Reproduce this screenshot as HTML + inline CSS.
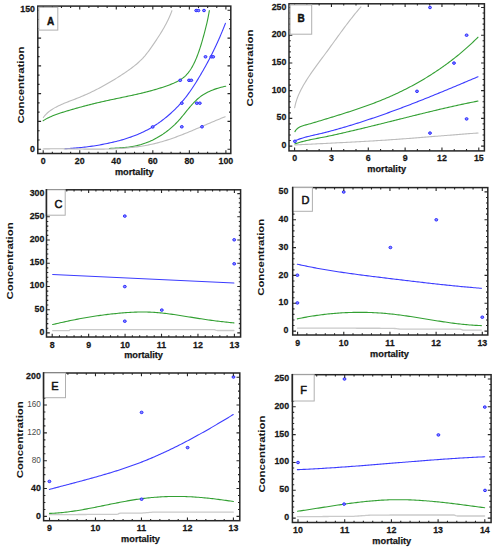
<!DOCTYPE html>
<html><head><meta charset="utf-8"><style>html,body{margin:0;padding:0;background:#fff;}svg{display:block;}</style></head><body>
<svg width="495" height="550" viewBox="0 0 495 550" font-family='"Liberation Sans", sans-serif'>
<rect width="495" height="550" fill="#fff"/>
<polyline points="43.35,117.46 44.24,116.25 45.21,115.11 46.23,114.03 47.31,113 48.44,112.04 49.61,111.12 50.81,110.25 52.05,109.42 53.32,108.62 54.61,107.87 55.92,107.14 57.25,106.44 58.6,105.77 59.97,105.13 61.35,104.51 62.75,103.9 64.15,103.31 65.57,102.74 66.99,102.17 68.42,101.62 69.86,101.07 71.29,100.52 72.73,99.97 74.16,99.43 75.6,98.87 77.02,98.31 78.44,97.74 79.86,97.17 81.27,96.58 82.67,95.98 84.07,95.38 85.46,94.77 86.85,94.15 88.23,93.52 89.61,92.88 90.98,92.23 92.34,91.58 93.71,90.91 95.06,90.24 96.41,89.56 97.76,88.87 99.1,88.18 100.44,87.47 101.77,86.76 103.1,86.04 104.42,85.31 105.74,84.57 107.06,83.83 108.37,83.08 109.68,82.32 110.98,81.55 112.28,80.77 113.58,79.99 114.87,79.2 116.16,78.4 117.44,77.6 118.72,76.78 120,75.96 121.28,75.13 122.55,74.3 123.82,73.46 125.09,72.61 126.35,71.75 127.61,70.88 128.86,70.01 130.1,69.12 131.33,68.22 132.55,67.31 133.76,66.38 134.95,65.43 136.12,64.47 137.28,63.49 138.41,62.49 139.52,61.47 140.61,60.43 141.68,59.36 142.72,58.28 143.73,57.16 144.72,56.03 145.68,54.88 146.63,53.7 147.56,52.51 148.47,51.31 149.37,50.09 150.25,48.87 151.13,47.63 152,46.38 152.86,45.13 153.72,43.88 154.57,42.62 155.42,41.35 156.27,40.09 157.11,38.82 157.94,37.54 158.77,36.26 159.59,34.98 160.39,33.69 161.19,32.39 161.98,31.09 162.76,29.78 163.52,28.47 164.27,27.15 165.01,25.82 165.73,24.49 166.44,23.15 167.13,21.8 167.8,20.44 168.45,19.07 169.08,17.7 169.7,16.31 170.29,14.92 170.86,13.52 171.41,12.11 171.93,10.69" fill="none" stroke="#bcbcbc" stroke-width="1.1" stroke-linejoin="round" stroke-linecap="round"/>
<polyline points="43.15,120.73 44.5,119.89 45.84,119.1 47.2,118.36 48.56,117.66 49.93,117 51.3,116.39 52.68,115.8 54.06,115.25 55.45,114.72 56.85,114.22 58.25,113.74 59.65,113.27 61.06,112.82 62.47,112.38 63.89,111.94 65.32,111.51 66.74,111.08 68.18,110.65 69.61,110.23 71.05,109.8 72.49,109.39 73.94,108.97 75.39,108.56 76.84,108.14 78.3,107.74 79.76,107.33 81.22,106.93 82.68,106.54 84.15,106.14 85.61,105.76 87.08,105.37 88.56,104.99 90.03,104.61 91.51,104.24 92.98,103.87 94.46,103.51 95.94,103.15 97.42,102.8 98.9,102.45 100.38,102.1 101.86,101.76 103.35,101.43 104.83,101.1 106.31,100.77 107.8,100.45 109.28,100.13 110.76,99.81 112.25,99.5 113.73,99.19 115.21,98.87 116.7,98.56 118.18,98.25 119.66,97.94 121.14,97.64 122.63,97.33 124.11,97.02 125.59,96.7 127.07,96.39 128.55,96.08 130.03,95.76 131.5,95.44 132.98,95.11 134.45,94.79 135.93,94.46 137.4,94.12 138.87,93.78 140.34,93.44 141.81,93.09 143.28,92.73 144.75,92.37 146.21,92 147.67,91.63 149.13,91.25 150.59,90.86 152.05,90.46 153.5,90.05 154.96,89.63 156.41,89.21 157.86,88.78 159.3,88.33 160.75,87.88 162.19,87.41 163.63,86.93 165.06,86.45 166.5,85.95 167.93,85.43 169.36,84.91 170.78,84.37 172.19,83.8 173.59,83.22 174.97,82.61 176.33,81.96 177.66,81.29 178.97,80.57 180.24,79.82 181.47,79.01 182.67,78.16 183.82,77.26 184.93,76.3 185.98,75.28 186.99,74.21 187.95,73.09 188.87,71.93 189.75,70.72 190.59,69.47 191.4,68.2 192.17,66.89 192.9,65.55 193.61,64.19 194.28,62.82 194.93,61.42 195.56,60.02 196.16,58.61 196.74,57.2 197.3,55.77 197.84,54.35 198.37,52.92 198.88,51.49 199.37,50.05 199.85,48.61 200.31,47.16 200.77,45.72 201.21,44.27 201.64,42.81 202.07,41.36 202.49,39.9 202.9,38.44 203.31,36.98 203.71,35.51 204.11,34.05 204.5,32.58 204.89,31.11 205.27,29.65 205.65,28.18 206.01,26.71 206.37,25.24 206.72,23.77 207.06,22.3 207.38,20.83 207.7,19.36 208.01,17.89 208.3,16.43 208.58,14.96 208.84,13.5 209.09,12.04 209.32,10.58" fill="none" stroke="#33a033" stroke-width="1.1" stroke-linejoin="round" stroke-linecap="round"/>
<polyline points="65.03,148.67 66.53,148.61 68.02,148.54 69.52,148.46 71.02,148.37 72.52,148.27 74.02,148.16 75.53,148.04 77.04,147.91 78.55,147.78 80.06,147.63 81.57,147.48 83.08,147.32 84.6,147.14 86.11,146.96 87.62,146.77 89.14,146.57 90.65,146.36 92.17,146.15 93.68,145.92 95.19,145.68 96.7,145.44 98.21,145.18 99.72,144.92 101.23,144.65 102.73,144.37 104.23,144.08 105.73,143.78 107.23,143.47 108.73,143.15 110.22,142.83 111.71,142.49 113.19,142.15 114.68,141.79 116.16,141.43 117.63,141.05 119.1,140.66 120.57,140.26 122.03,139.85 123.48,139.43 124.93,138.99 126.38,138.54 127.82,138.08 129.25,137.6 130.68,137.11 132.1,136.6 133.52,136.08 134.93,135.54 136.33,134.99 137.73,134.42 139.12,133.83 140.5,133.22 141.87,132.6 143.24,131.95 144.59,131.29 145.94,130.61 147.28,129.91 148.62,129.19 149.94,128.45 151.25,127.69 152.56,126.91 153.85,126.12 155.14,125.3 156.41,124.47 157.68,123.63 158.93,122.76 160.18,121.88 161.41,120.98 162.63,120.06 163.84,119.13 165.04,118.19 166.23,117.23 167.41,116.25 168.57,115.26 169.72,114.26 170.86,113.24 171.98,112.21 173.1,111.16 174.2,110.11 175.28,109.04 176.36,107.95 177.42,106.86 178.46,105.76 179.49,104.64 180.51,103.51 181.51,102.37 182.5,101.23 183.47,100.07 184.42,98.9 185.36,97.72 186.29,96.54 187.2,95.34 188.09,94.14 188.98,92.93 189.84,91.71 190.7,90.48 191.55,89.25 192.38,88.01 193.21,86.76 194.02,85.5 194.83,84.24 195.64,82.97 196.43,81.69 197.22,80.4 198,79.12 198.78,77.82 199.56,76.52 200.33,75.21 201.11,73.9 201.87,72.58 202.64,71.26 203.4,69.93 204.15,68.6 204.9,67.26 205.65,65.92 206.39,64.58 207.12,63.23 207.85,61.88 208.57,60.53 209.29,59.17 209.99,57.81 210.7,56.44 211.39,55.07 212.08,53.71 212.76,52.33 213.43,50.96 214.1,49.59 214.76,48.21 215.41,46.83 216.06,45.45 216.69,44.07 217.33,42.69 217.95,41.31 218.57,39.92 219.18,38.54 219.78,37.16 220.38,35.77 220.97,34.39 221.55,33.01 222.12,31.63 222.69,30.25 223.25,28.87 223.8,27.49 224.35,26.11 224.89,24.74 225.42,23.36" fill="none" stroke="#3c3cff" stroke-width="1.1" stroke-linejoin="round" stroke-linecap="round"/>
<polyline points="109.42,148.45 110.97,148.37 112.52,148.3 114.06,148.22 115.6,148.14 117.14,148.06 118.68,147.97 120.21,147.88 121.74,147.77 123.27,147.65 124.79,147.51 126.31,147.36 127.82,147.19 129.33,147 130.83,146.78 132.33,146.54 133.82,146.27 135.3,145.97 136.78,145.64 138.24,145.28 139.7,144.9 141.16,144.48 142.6,144.03 144.03,143.56 145.46,143.06 146.87,142.53 148.28,141.97 149.67,141.39 151.05,140.77 152.43,140.14 153.79,139.47 155.13,138.78 156.47,138.07 157.79,137.33 159.1,136.56 160.4,135.77 161.68,134.96 162.95,134.13 164.2,133.27 165.44,132.38 166.66,131.48 167.87,130.56 169.06,129.61 170.24,128.64 171.39,127.66 172.53,126.65 173.65,125.62 174.76,124.57 175.84,123.5 176.91,122.41 177.96,121.3 178.99,120.17 180,119.02 181,117.85 181.99,116.67 182.97,115.49 183.95,114.3 184.91,113.1 185.88,111.9 186.85,110.71 187.82,109.52 188.79,108.34 189.77,107.17 190.75,106.01 191.75,104.87 192.76,103.75 193.79,102.65 194.83,101.57 195.9,100.52 196.98,99.5 198.09,98.52 199.23,97.57 200.39,96.66 201.59,95.79 202.81,94.96 204.07,94.16 205.35,93.41 206.66,92.7 208,92.02 209.36,91.38 210.75,90.77 212.16,90.19 213.59,89.64 215.04,89.12 216.51,88.63 218,88.17 219.51,87.73 221.04,87.32 222.58,86.93 224.13,86.56 225.7,86.22" fill="none" stroke="#33a033" stroke-width="1.1" stroke-linejoin="round" stroke-linecap="round"/>
<polyline points="43.12,148.95 44.64,148.91 46.16,148.88 47.69,148.86 49.21,148.84 50.73,148.82 52.26,148.81 53.78,148.8 55.3,148.8 56.83,148.79 58.35,148.8 59.87,148.8 61.39,148.81 62.92,148.82 64.44,148.84 65.96,148.85 67.49,148.87 69.01,148.89 70.53,148.91 72.05,148.93 73.57,148.95 75.1,148.97 76.62,148.99 78.14,149.01 79.66,149.03 81.18,149.05 82.7,149.07 84.22,149.09 85.73,149.11 87.25,149.12 88.77,149.13 90.29,149.14 91.8,149.15 93.32,149.16 94.83,149.16 96.35,149.15 97.86,149.15 99.37,149.14 100.89,149.13 102.4,149.11 103.91,149.09 105.42,149.06 106.93,149.02 108.43,148.99 109.94,148.94 111.45,148.89 112.95,148.83 114.46,148.77 115.96,148.7 117.46,148.62 118.96,148.54 120.46,148.45 121.96,148.35 123.46,148.24 124.95,148.12 126.45,148 127.94,147.86 129.44,147.72 130.93,147.56 132.42,147.4 133.91,147.23 135.39,147.04 136.88,146.85 138.36,146.64 139.85,146.43 141.33,146.2 142.81,145.96 144.29,145.71 145.76,145.45 147.24,145.17 148.71,144.88 150.19,144.58 151.66,144.26 153.12,143.94 154.59,143.59 156.06,143.24 157.52,142.87 158.98,142.48 160.44,142.08 161.9,141.67 163.36,141.24 164.81,140.8 166.26,140.35 167.71,139.88 169.16,139.41 170.61,138.92 172.05,138.42 173.5,137.92 174.94,137.4 176.38,136.87 177.81,136.34 179.25,135.8 180.68,135.25 182.11,134.69 183.53,134.13 184.96,133.56 186.38,132.98 187.8,132.41 189.22,131.82 190.64,131.23 192.05,130.64 193.46,130.05 194.87,129.45 196.27,128.86 197.68,128.26 199.08,127.66 200.48,127.06 201.87,126.46 203.27,125.86 204.66,125.26 206.04,124.66 207.43,124.07 208.81,123.48 210.19,122.89 211.57,122.3 212.94,121.72 214.31,121.15 215.68,120.58 217.05,120.01 218.41,119.46 219.77,118.9 221.12,118.36 222.48,117.82 223.83,117.3 225.18,116.78" fill="none" stroke="#bcbcbc" stroke-width="1.1" stroke-linejoin="round" stroke-linecap="round"/>
<ellipse cx="152.7" cy="126.9" rx="1.45" ry="1.25" fill="#8c8cff" stroke="#2a2aff" stroke-width="1"/>
<ellipse cx="181.8" cy="103.2" rx="1.45" ry="1.25" fill="#8c8cff" stroke="#2a2aff" stroke-width="1"/>
<ellipse cx="180.2" cy="80.3" rx="1.45" ry="1.25" fill="#8c8cff" stroke="#2a2aff" stroke-width="1"/>
<ellipse cx="189" cy="80.3" rx="1.45" ry="1.25" fill="#8c8cff" stroke="#2a2aff" stroke-width="1"/>
<ellipse cx="191.3" cy="80.3" rx="1.45" ry="1.25" fill="#8c8cff" stroke="#2a2aff" stroke-width="1"/>
<ellipse cx="196.8" cy="103.2" rx="1.45" ry="1.25" fill="#8c8cff" stroke="#2a2aff" stroke-width="1"/>
<ellipse cx="199.8" cy="103.2" rx="1.45" ry="1.25" fill="#8c8cff" stroke="#2a2aff" stroke-width="1"/>
<ellipse cx="181.8" cy="126.8" rx="1.45" ry="1.25" fill="#8c8cff" stroke="#2a2aff" stroke-width="1"/>
<ellipse cx="202" cy="126.8" rx="1.45" ry="1.25" fill="#8c8cff" stroke="#2a2aff" stroke-width="1"/>
<ellipse cx="205.5" cy="56.8" rx="1.45" ry="1.25" fill="#8c8cff" stroke="#2a2aff" stroke-width="1"/>
<ellipse cx="211.4" cy="56.8" rx="1.45" ry="1.25" fill="#8c8cff" stroke="#2a2aff" stroke-width="1"/>
<ellipse cx="213.2" cy="56.8" rx="1.45" ry="1.25" fill="#8c8cff" stroke="#2a2aff" stroke-width="1"/>
<ellipse cx="196.2" cy="10.5" rx="1.45" ry="1.25" fill="#8c8cff" stroke="#2a2aff" stroke-width="1"/>
<ellipse cx="198.4" cy="10.5" rx="1.45" ry="1.25" fill="#8c8cff" stroke="#2a2aff" stroke-width="1"/>
<ellipse cx="204" cy="10.5" rx="1.45" ry="1.25" fill="#8c8cff" stroke="#2a2aff" stroke-width="1"/>
<rect x="37.8" y="6.1" width="193" height="147.4" fill="none" stroke="#262626" stroke-width="1.5"/>
<path d="M43.2,153.5L43.2,150.2 M43.2,6.1L43.2,9.4 M52.34,153.5L52.34,151.7 M52.34,6.1L52.34,7.9 M61.47,153.5L61.47,151.7 M61.47,6.1L61.47,7.9 M70.61,153.5L70.61,151.7 M70.61,6.1L70.61,7.9 M79.74,153.5L79.74,150.2 M79.74,6.1L79.74,9.4 M88.88,153.5L88.88,151.7 M88.88,6.1L88.88,7.9 M98.01,153.5L98.01,151.7 M98.01,6.1L98.01,7.9 M107.15,153.5L107.15,151.7 M107.15,6.1L107.15,7.9 M116.28,153.5L116.28,150.2 M116.28,6.1L116.28,9.4 M125.42,153.5L125.42,151.7 M125.42,6.1L125.42,7.9 M134.55,153.5L134.55,151.7 M134.55,6.1L134.55,7.9 M143.69,153.5L143.69,151.7 M143.69,6.1L143.69,7.9 M152.82,153.5L152.82,150.2 M152.82,6.1L152.82,9.4 M161.95,153.5L161.95,151.7 M161.95,6.1L161.95,7.9 M171.09,153.5L171.09,151.7 M171.09,6.1L171.09,7.9 M180.23,153.5L180.23,151.7 M180.23,6.1L180.23,7.9 M189.36,153.5L189.36,150.2 M189.36,6.1L189.36,9.4 M198.5,153.5L198.5,151.7 M198.5,6.1L198.5,7.9 M207.63,153.5L207.63,151.7 M207.63,6.1L207.63,7.9 M216.76,153.5L216.76,151.7 M216.76,6.1L216.76,7.9 M225.9,153.5L225.9,150.2 M225.9,6.1L225.9,9.4 M37.8,149.2L41.1,149.2 M230.8,149.2L227.5,149.2 M37.8,139.94L39.6,139.94 M230.8,139.94L229,139.94 M37.8,130.68L39.6,130.68 M230.8,130.68L229,130.68 M37.8,121.42L41.1,121.42 M230.8,121.42L227.5,121.42 M37.8,112.16L39.6,112.16 M230.8,112.16L229,112.16 M37.8,102.9L39.6,102.9 M230.8,102.9L229,102.9 M37.8,93.64L41.1,93.64 M230.8,93.64L227.5,93.64 M37.8,84.38L39.6,84.38 M230.8,84.38L229,84.38 M37.8,75.12L39.6,75.12 M230.8,75.12L229,75.12 M37.8,65.86L41.1,65.86 M230.8,65.86L227.5,65.86 M37.8,56.6L39.6,56.6 M230.8,56.6L229,56.6 M37.8,47.34L39.6,47.34 M230.8,47.34L229,47.34 M37.8,38.08L41.1,38.08 M230.8,38.08L227.5,38.08 M37.8,28.82L39.6,28.82 M230.8,28.82L229,28.82 M37.8,19.56L39.6,19.56 M230.8,19.56L229,19.56 M37.8,10.3L41.1,10.3 M230.8,10.3L227.5,10.3" stroke="#262626" stroke-width="1.1" fill="none"/>
<rect x="38.9" y="7.3" width="18.9" height="22.8" fill="#fff" stroke="#b0b0b0" stroke-width="1"/>
<text x="50.6" y="24.6" font-size="10" font-weight="bold" text-anchor="middle" fill="#111" stroke="#111" stroke-width="0.4" >A</text>
<text transform="translate(43.2,163.8) scale(0.92,1)" font-size="9.6" font-weight="bold" text-anchor="middle" fill="#161616" stroke="#161616" stroke-width="0.25">0</text>
<text transform="translate(79.74,163.8) scale(0.92,1)" font-size="9.6" font-weight="bold" text-anchor="middle" fill="#161616" stroke="#161616" stroke-width="0.25">20</text>
<text transform="translate(116.28,163.8) scale(0.92,1)" font-size="9.6" font-weight="bold" text-anchor="middle" fill="#161616" stroke="#161616" stroke-width="0.25">40</text>
<text transform="translate(152.82,163.8) scale(0.92,1)" font-size="9.6" font-weight="bold" text-anchor="middle" fill="#161616" stroke="#161616" stroke-width="0.25">60</text>
<text transform="translate(189.36,163.8) scale(0.92,1)" font-size="9.6" font-weight="bold" text-anchor="middle" fill="#161616" stroke="#161616" stroke-width="0.25">80</text>
<text transform="translate(225.9,163.8) scale(0.92,1)" font-size="9.6" font-weight="bold" text-anchor="middle" fill="#161616" stroke="#161616" stroke-width="0.25">100</text>
<text transform="translate(35,11.9) scale(0.92,1)" font-size="9.6" font-weight="bold" text-anchor="end" fill="#161616" stroke="#161616" stroke-width="0.25">150</text>
<text transform="translate(35,152.2) scale(0.92,1)" font-size="9.6" font-weight="bold" text-anchor="end" fill="#161616" stroke="#161616" stroke-width="0.25">0</text>
<text x="134.3" y="174.6" font-size="9.2" font-weight="bold" text-anchor="middle" fill="#161616" stroke="#161616" stroke-width="0.25" >mortality</text>
<text x="0" y="0" font-size="9.7" font-weight="bold" text-anchor="middle" fill="#161616" stroke="#161616" stroke-width="0.05" transform="translate(24.4,85.1) rotate(-90)" textLength="77" lengthAdjust="spacingAndGlyphs">Concentration</text>
<polyline points="294.66,107.75 294.94,106.3 295.25,104.85 295.61,103.42 296.01,102 296.45,100.58 296.92,99.18 297.42,97.78 297.96,96.4 298.53,95.02 299.13,93.65 299.76,92.28 300.42,90.93 301.1,89.58 301.8,88.24 302.52,86.91 303.27,85.59 304.03,84.27 304.81,82.96 305.61,81.65 306.42,80.35 307.24,79.05 308.07,77.77 308.92,76.48 309.77,75.2 310.64,73.93 311.51,72.66 312.39,71.39 313.28,70.13 314.18,68.88 315.08,67.62 315.98,66.37 316.89,65.13 317.8,63.88 318.72,62.64 319.63,61.4 320.55,60.17 321.47,58.93 322.39,57.7 323.3,56.47 324.22,55.24 325.13,54.01 326.03,52.79 326.93,51.56 327.83,50.33 328.73,49.11 329.62,47.88 330.51,46.66 331.39,45.44 332.27,44.21 333.16,42.99 334.04,41.77 334.92,40.55 335.8,39.33 336.68,38.11 337.56,36.9 338.44,35.68 339.32,34.47 340.21,33.25 341.09,32.04 341.98,30.82 342.87,29.61 343.77,28.4 344.67,27.19 345.57,25.98 346.48,24.78 347.39,23.57 348.31,22.37 349.24,21.16 350.17,19.96 351.1,18.76 352.05,17.56 353,16.36 353.96,15.16 354.93,13.96 355.91,12.77 356.9,11.57 357.9,10.38 358.9,9.19 359.92,8 360.95,6.81" fill="none" stroke="#bcbcbc" stroke-width="1.1" stroke-linejoin="round" stroke-linecap="round"/>
<polyline points="294.9,131.6 295.68,130.34 296.62,129.25 297.69,128.32 298.87,127.52 300.15,126.84 301.51,126.25 302.94,125.74 304.41,125.29 305.9,124.87 307.41,124.47 308.9,124.07 310.39,123.66 311.86,123.25 313.32,122.83 314.77,122.4 316.21,121.97 317.65,121.53 319.09,121.09 320.53,120.66 321.97,120.22 323.41,119.78 324.86,119.34 326.3,118.9 327.75,118.46 329.19,118.02 330.64,117.57 332.09,117.13 333.54,116.68 334.98,116.24 336.43,115.79 337.88,115.34 339.33,114.89 340.77,114.43 342.22,113.98 343.67,113.52 345.11,113.06 346.56,112.6 348,112.13 349.44,111.67 350.88,111.2 352.32,110.72 353.76,110.25 355.2,109.77 356.64,109.28 358.07,108.8 359.51,108.3 360.94,107.81 362.37,107.31 363.8,106.81 365.23,106.3 366.66,105.79 368.08,105.28 369.5,104.75 370.92,104.23 372.34,103.7 373.76,103.16 375.17,102.62 376.59,102.08 378,101.52 379.4,100.97 380.81,100.4 382.21,99.83 383.61,99.26 385.01,98.68 386.41,98.09 387.8,97.5 389.19,96.89 390.57,96.29 391.96,95.67 393.34,95.05 394.72,94.42 396.09,93.79 397.47,93.15 398.84,92.5 400.2,91.85 401.56,91.18 402.92,90.52 404.28,89.84 405.63,89.16 406.98,88.47 408.33,87.78 409.67,87.08 411.01,86.37 412.35,85.65 413.68,84.93 415.01,84.21 416.33,83.47 417.66,82.73 418.97,81.98 420.29,81.23 421.6,80.47 422.9,79.7 424.21,78.93 425.5,78.15 426.8,77.36 428.09,76.56 429.37,75.76 430.65,74.96 431.93,74.14 433.2,73.32 434.47,72.49 435.74,71.66 437,70.82 438.25,69.97 439.5,69.12 440.75,68.26 441.99,67.39 443.23,66.52 444.46,65.64 445.69,64.75 446.91,63.86 448.13,62.96 449.34,62.05 450.55,61.14 451.75,60.22 452.95,59.29 454.15,58.36 455.33,57.42 456.52,56.48 457.7,55.52 458.87,54.56 460.04,53.6 461.2,52.63 462.35,51.65 463.5,50.66 464.65,49.67 465.79,48.67 466.92,47.67 468.05,46.65 469.18,45.64 470.29,44.61 471.41,43.58 472.51,42.54 473.61,41.5 474.71,40.45 475.79,39.39 476.88,38.33 477.95,37.26" fill="none" stroke="#33a033" stroke-width="1.1" stroke-linejoin="round" stroke-linecap="round"/>
<polyline points="294.71,140.88 296.19,140.25 297.66,139.67 299.13,139.13 300.61,138.62 302.08,138.15 303.55,137.71 305.03,137.3 306.5,136.9 307.97,136.53 309.44,136.17 310.91,135.82 312.38,135.47 313.85,135.13 315.32,134.8 316.79,134.46 318.26,134.12 319.73,133.78 321.2,133.44 322.67,133.09 324.13,132.73 325.6,132.37 327.06,132 328.53,131.62 329.99,131.23 331.46,130.84 332.92,130.45 334.38,130.05 335.84,129.64 337.31,129.23 338.77,128.82 340.22,128.4 341.68,127.98 343.14,127.55 344.6,127.12 346.05,126.69 347.51,126.25 348.96,125.81 350.41,125.37 351.87,124.92 353.32,124.47 354.77,124.02 356.22,123.57 357.67,123.11 359.11,122.65 360.56,122.19 362.01,121.72 363.45,121.26 364.9,120.78 366.34,120.31 367.78,119.83 369.22,119.35 370.66,118.87 372.1,118.39 373.54,117.9 374.98,117.41 376.41,116.92 377.85,116.42 379.29,115.92 380.72,115.42 382.15,114.92 383.58,114.42 385.02,113.91 386.45,113.4 387.88,112.89 389.3,112.37 390.73,111.85 392.16,111.33 393.58,110.81 395.01,110.29 396.43,109.76 397.85,109.23 399.28,108.7 400.7,108.17 402.12,107.64 403.54,107.1 404.96,106.56 406.38,106.02 407.79,105.48 409.21,104.93 410.63,104.39 412.04,103.84 413.46,103.29 414.87,102.74 416.28,102.19 417.69,101.63 419.11,101.07 420.52,100.52 421.93,99.96 423.34,99.4 424.75,98.83 426.16,98.27 427.56,97.7 428.97,97.14 430.38,96.57 431.79,96 433.19,95.43 434.6,94.86 436,94.28 437.41,93.71 438.81,93.13 440.22,92.56 441.62,91.98 443.02,91.4 444.42,90.82 445.83,90.24 447.23,89.66 448.63,89.08 450.03,88.49 451.43,87.91 452.83,87.32 454.23,86.74 455.63,86.15 457.03,85.56 458.43,84.98 459.83,84.39 461.23,83.8 462.63,83.21 464.03,82.62 465.42,82.03 466.82,81.44 468.22,80.85 469.62,80.26 471.02,79.66 472.41,79.07 473.81,78.48 475.21,77.89 476.6,77.29 478,76.7" fill="none" stroke="#3c3cff" stroke-width="1.1" stroke-linejoin="round" stroke-linecap="round"/>
<polyline points="294.78,143.9 296.27,143.38 297.76,142.9 299.25,142.44 300.74,142.01 302.22,141.6 303.71,141.22 305.2,140.85 306.69,140.5 308.17,140.17 309.66,139.85 311.14,139.55 312.63,139.25 314.11,138.96 315.59,138.68 317.08,138.39 318.56,138.11 320.04,137.83 321.53,137.55 323.01,137.26 324.49,136.97 325.97,136.67 327.45,136.36 328.93,136.05 330.41,135.74 331.89,135.42 333.37,135.1 334.85,134.77 336.33,134.45 337.8,134.11 339.28,133.78 340.76,133.45 342.24,133.11 343.71,132.77 345.19,132.43 346.67,132.08 348.14,131.74 349.62,131.39 351.09,131.05 352.57,130.7 354.04,130.35 355.52,130 356.99,129.65 358.47,129.3 359.94,128.94 361.42,128.59 362.89,128.24 364.36,127.88 365.84,127.52 367.31,127.16 368.79,126.81 370.26,126.45 371.73,126.09 373.2,125.73 374.68,125.36 376.15,125 377.62,124.64 379.09,124.27 380.57,123.91 382.04,123.55 383.51,123.18 384.98,122.82 386.46,122.45 387.93,122.08 389.4,121.72 390.87,121.35 392.34,120.98 393.82,120.61 395.29,120.25 396.76,119.88 398.23,119.51 399.7,119.14 401.18,118.78 402.65,118.41 404.12,118.04 405.59,117.67 407.07,117.31 408.54,116.94 410.01,116.57 411.48,116.21 412.96,115.84 414.43,115.48 415.9,115.11 417.37,114.75 418.85,114.39 420.32,114.03 421.79,113.67 423.27,113.3 424.74,112.95 426.22,112.59 427.69,112.23 429.16,111.87 430.64,111.52 432.11,111.16 433.59,110.81 435.06,110.46 436.54,110.11 438.01,109.76 439.49,109.41 440.97,109.07 442.44,108.72 443.92,108.38 445.4,108.04 446.87,107.7 448.35,107.36 449.83,107.03 451.31,106.69 452.79,106.36 454.26,106.03 455.74,105.7 457.22,105.38 458.7,105.05 460.18,104.73 461.66,104.41 463.14,104.1 464.62,103.78 466.11,103.47 467.59,103.16 469.07,102.85 470.55,102.55 472.04,102.24 473.52,101.94 475,101.65 476.49,101.35 477.97,101.06" fill="none" stroke="#33a033" stroke-width="1.1" stroke-linejoin="round" stroke-linecap="round"/>
<polyline points="295.09,144.97 296.6,144.89 298.12,144.81 299.63,144.73 301.15,144.65 302.66,144.57 304.18,144.5 305.69,144.42 307.21,144.34 308.72,144.26 310.24,144.19 311.75,144.11 313.27,144.03 314.78,143.96 316.29,143.88 317.81,143.81 319.32,143.73 320.84,143.65 322.35,143.58 323.87,143.5 325.38,143.43 326.89,143.35 328.41,143.28 329.92,143.2 331.44,143.12 332.95,143.05 334.46,142.97 335.98,142.9 337.49,142.82 339,142.74 340.52,142.67 342.03,142.59 343.54,142.51 345.06,142.43 346.57,142.35 348.08,142.27 349.6,142.2 351.11,142.12 352.62,142.03 354.14,141.95 355.65,141.87 357.16,141.79 358.68,141.71 360.19,141.62 361.7,141.54 363.21,141.46 364.73,141.37 366.24,141.28 367.75,141.2 369.26,141.11 370.78,141.02 372.29,140.93 373.8,140.84 375.31,140.75 376.83,140.65 378.34,140.56 379.85,140.47 381.36,140.37 382.88,140.27 384.39,140.18 385.9,140.08 387.41,139.98 388.92,139.88 390.44,139.77 391.95,139.67 393.46,139.56 394.97,139.46 396.48,139.35 398,139.24 399.51,139.13 401.02,139.02 402.53,138.91 404.04,138.8 405.55,138.69 407.07,138.57 408.58,138.46 410.09,138.34 411.6,138.23 413.11,138.11 414.62,137.99 416.13,137.87 417.65,137.75 419.16,137.63 420.67,137.51 422.18,137.39 423.69,137.27 425.2,137.15 426.71,137.03 428.23,136.91 429.74,136.79 431.25,136.67 432.76,136.54 434.27,136.42 435.78,136.3 437.29,136.18 438.8,136.05 440.32,135.93 441.83,135.81 443.34,135.69 444.85,135.56 446.36,135.44 447.87,135.32 449.38,135.2 450.89,135.08 452.4,134.96 453.91,134.84 455.43,134.72 456.94,134.6 458.45,134.48 459.96,134.36 461.47,134.24 462.98,134.12 464.49,134.01 466,133.89 467.51,133.77 469.02,133.66 470.53,133.55 472.05,133.43 473.56,133.32 475.07,133.21 476.58,133.1 478.09,132.99" fill="none" stroke="#bcbcbc" stroke-width="1.1" stroke-linejoin="round" stroke-linecap="round"/>
<ellipse cx="294.9" cy="141.3" rx="1.45" ry="1.25" fill="#8c8cff" stroke="#2a2aff" stroke-width="1"/>
<ellipse cx="417" cy="91.3" rx="1.45" ry="1.25" fill="#8c8cff" stroke="#2a2aff" stroke-width="1"/>
<ellipse cx="430" cy="7.5" rx="1.45" ry="1.25" fill="#8c8cff" stroke="#2a2aff" stroke-width="1"/>
<ellipse cx="430" cy="133.1" rx="1.45" ry="1.25" fill="#8c8cff" stroke="#2a2aff" stroke-width="1"/>
<ellipse cx="454" cy="63.1" rx="1.45" ry="1.25" fill="#8c8cff" stroke="#2a2aff" stroke-width="1"/>
<ellipse cx="466.6" cy="35.2" rx="1.45" ry="1.25" fill="#8c8cff" stroke="#2a2aff" stroke-width="1"/>
<ellipse cx="466.6" cy="118.9" rx="1.45" ry="1.25" fill="#8c8cff" stroke="#2a2aff" stroke-width="1"/>
<rect x="289" y="3.8" width="195.4" height="147.1" fill="none" stroke="#262626" stroke-width="1.5"/>
<path d="M294.6,150.9L294.6,147.6 M294.6,3.8L294.6,7.1 M306.88,150.9L306.88,149.1 M306.88,3.8L306.88,5.6 M319.16,150.9L319.16,149.1 M319.16,3.8L319.16,5.6 M331.44,150.9L331.44,147.6 M331.44,3.8L331.44,7.1 M343.72,150.9L343.72,149.1 M343.72,3.8L343.72,5.6 M356,150.9L356,149.1 M356,3.8L356,5.6 M368.28,150.9L368.28,147.6 M368.28,3.8L368.28,7.1 M380.56,150.9L380.56,149.1 M380.56,3.8L380.56,5.6 M392.84,150.9L392.84,149.1 M392.84,3.8L392.84,5.6 M405.12,150.9L405.12,147.6 M405.12,3.8L405.12,7.1 M417.4,150.9L417.4,149.1 M417.4,3.8L417.4,5.6 M429.68,150.9L429.68,149.1 M429.68,3.8L429.68,5.6 M441.96,150.9L441.96,147.6 M441.96,3.8L441.96,7.1 M454.24,150.9L454.24,149.1 M454.24,3.8L454.24,5.6 M466.52,150.9L466.52,149.1 M466.52,3.8L466.52,5.6 M478.8,150.9L478.8,147.6 M478.8,3.8L478.8,7.1 M289,146.1L292.3,146.1 M484.4,146.1L481.1,146.1 M289,140.56L290.8,140.56 M484.4,140.56L482.6,140.56 M289,135.01L290.8,135.01 M484.4,135.01L482.6,135.01 M289,129.47L290.8,129.47 M484.4,129.47L482.6,129.47 M289,123.92L290.8,123.92 M484.4,123.92L482.6,123.92 M289,118.38L292.3,118.38 M484.4,118.38L481.1,118.38 M289,112.84L290.8,112.84 M484.4,112.84L482.6,112.84 M289,107.29L290.8,107.29 M484.4,107.29L482.6,107.29 M289,101.75L290.8,101.75 M484.4,101.75L482.6,101.75 M289,96.2L290.8,96.2 M484.4,96.2L482.6,96.2 M289,90.66L292.3,90.66 M484.4,90.66L481.1,90.66 M289,85.12L290.8,85.12 M484.4,85.12L482.6,85.12 M289,79.57L290.8,79.57 M484.4,79.57L482.6,79.57 M289,74.03L290.8,74.03 M484.4,74.03L482.6,74.03 M289,68.48L290.8,68.48 M484.4,68.48L482.6,68.48 M289,62.94L292.3,62.94 M484.4,62.94L481.1,62.94 M289,57.4L290.8,57.4 M484.4,57.4L482.6,57.4 M289,51.85L290.8,51.85 M484.4,51.85L482.6,51.85 M289,46.31L290.8,46.31 M484.4,46.31L482.6,46.31 M289,40.76L290.8,40.76 M484.4,40.76L482.6,40.76 M289,35.22L292.3,35.22 M484.4,35.22L481.1,35.22 M289,29.68L290.8,29.68 M484.4,29.68L482.6,29.68 M289,24.13L290.8,24.13 M484.4,24.13L482.6,24.13 M289,18.59L290.8,18.59 M484.4,18.59L482.6,18.59 M289,13.04L290.8,13.04 M484.4,13.04L482.6,13.04 M289,7.5L292.3,7.5 M484.4,7.5L481.1,7.5" stroke="#262626" stroke-width="1.1" fill="none"/>
<rect x="290.1" y="4.9" width="21.6" height="29.3" fill="#fff" stroke="#b0b0b0" stroke-width="1"/>
<text x="301.1" y="22.2" font-size="10" font-weight="bold" text-anchor="middle" fill="#111" stroke="#111" stroke-width="0.4" >B</text>
<text transform="translate(294.6,161.2) scale(0.92,1)" font-size="9.6" font-weight="bold" text-anchor="middle" fill="#161616" stroke="#161616" stroke-width="0.25">0</text>
<text transform="translate(331.44,161.2) scale(0.92,1)" font-size="9.6" font-weight="bold" text-anchor="middle" fill="#161616" stroke="#161616" stroke-width="0.25">3</text>
<text transform="translate(368.28,161.2) scale(0.92,1)" font-size="9.6" font-weight="bold" text-anchor="middle" fill="#161616" stroke="#161616" stroke-width="0.25">6</text>
<text transform="translate(405.12,161.2) scale(0.92,1)" font-size="9.6" font-weight="bold" text-anchor="middle" fill="#161616" stroke="#161616" stroke-width="0.25">9</text>
<text transform="translate(441.96,161.2) scale(0.92,1)" font-size="9.6" font-weight="bold" text-anchor="middle" fill="#161616" stroke="#161616" stroke-width="0.25">12</text>
<text transform="translate(478.8,161.2) scale(0.92,1)" font-size="9.6" font-weight="bold" text-anchor="middle" fill="#161616" stroke="#161616" stroke-width="0.25">15</text>
<text transform="translate(286.4,148.1) scale(0.92,1)" font-size="9.6" font-weight="bold" text-anchor="end" fill="#161616" stroke="#161616" stroke-width="0.25">0</text>
<text transform="translate(286.4,120.38) scale(0.92,1)" font-size="9.6" font-weight="bold" text-anchor="end" fill="#161616" stroke="#161616" stroke-width="0.25">50</text>
<text transform="translate(286.4,92.66) scale(0.92,1)" font-size="9.6" font-weight="bold" text-anchor="end" fill="#161616" stroke="#161616" stroke-width="0.25">100</text>
<text transform="translate(286.4,64.94) scale(0.92,1)" font-size="9.6" font-weight="bold" text-anchor="end" fill="#161616" stroke="#161616" stroke-width="0.25">150</text>
<text transform="translate(286.4,37.22) scale(0.92,1)" font-size="9.6" font-weight="bold" text-anchor="end" fill="#161616" stroke="#161616" stroke-width="0.25">200</text>
<text transform="translate(286.4,9.5) scale(0.92,1)" font-size="9.6" font-weight="bold" text-anchor="end" fill="#161616" stroke="#161616" stroke-width="0.25">250</text>
<text x="386.7" y="171.8" font-size="9.2" font-weight="bold" text-anchor="middle" fill="#161616" stroke="#161616" stroke-width="0.25" >mortality</text>
<text x="0" y="0" font-size="9.7" font-weight="bold" text-anchor="middle" fill="#161616" stroke="#161616" stroke-width="0.05" transform="translate(252.7,68) rotate(-90)" textLength="77" lengthAdjust="spacingAndGlyphs">Concentration</text>
<polyline points="52.7,330.7 54.21,330.7 55.73,330.7 57.24,330.7 58.76,330.69 60.27,330.69 61.78,330.69 63.3,330.69 64.81,330.69 66.32,330.69 67.84,330.68 69.3,330.56 70.42,329.62 71.93,329.62 73.45,329.62 74.96,329.62 76.48,329.62 77.99,329.62 79.51,329.62 81.03,329.61 82.54,329.61 84.06,329.61 85.57,329.61 87.09,329.61 88.6,329.61 90.12,329.61 91.63,329.61 93.15,329.61 94.66,329.61 96.18,329.61 97.69,329.61 99.21,329.61 100.72,329.61 102.24,329.61 103.75,329.61 105.27,329.61 106.78,329.61 108.3,329.61 109.81,329.61 111.33,329.61 112.85,329.61 114.36,329.61 115.88,329.61 117.39,329.61 118.91,329.61 120.42,329.61 121.94,329.61 123.45,329.61 124.97,329.6 126.48,329.6 128,329.6 129.51,329.6 131.03,329.6 132.54,329.6 134.06,329.6 135.57,329.6 137.09,329.6 138.6,329.6 140.12,329.6 141.63,329.6 143.15,329.6 144.67,329.6 146.18,329.6 147.7,329.6 149.21,329.6 150.73,329.6 152.24,329.6 153.76,329.6 155.27,329.6 156.79,329.6 158.3,329.6 159.82,329.6 161.34,329.6 162.85,329.6 164.37,329.6 165.88,329.6 167.4,329.6 168.91,329.6 170.43,329.6 171.94,329.6 173.46,329.6 174.98,329.6 176.49,329.6 178.01,329.6 179.52,329.6 181.04,329.6 182.55,329.6 184.07,329.6 185.58,329.6 187.1,329.6 188.61,329.6 190.13,329.6 191.65,329.6 193.16,329.6 194.68,329.6 196.19,329.6 197.71,329.6 199.22,329.6 200.74,329.6 202.25,329.6 203.77,329.61 205.29,329.61 206.8,329.61 208.32,329.61 209.83,329.61 211.35,329.61 212.86,329.61 214.38,329.61 215.8,330.07 217.23,330.49 218.75,330.49 220.26,330.49 221.78,330.5 223.29,330.5 224.81,330.5 226.32,330.5 227.84,330.5 229.35,330.5 230.87,330.5 232.38,330.5 233.9,330.5" fill="none" stroke="#cacaca" stroke-width="1.3" stroke-linejoin="round" stroke-linecap="round"/>
<polyline points="52.64,324.56 54.12,324.2 55.6,323.86 57.08,323.51 58.56,323.17 60.04,322.83 61.52,322.5 63,322.17 64.49,321.84 65.97,321.52 67.46,321.2 68.94,320.89 70.43,320.58 71.92,320.28 73.4,319.98 74.89,319.68 76.38,319.39 77.87,319.11 79.36,318.83 80.85,318.55 82.35,318.28 83.84,318.01 85.33,317.75 86.83,317.49 88.32,317.24 89.81,316.99 91.31,316.75 92.81,316.51 94.3,316.28 95.8,316.05 97.3,315.83 98.79,315.61 100.29,315.4 101.79,315.19 103.29,314.99 104.79,314.8 106.29,314.61 107.79,314.42 109.29,314.24 110.79,314.07 112.29,313.91 113.8,313.74 115.3,313.59 116.8,313.44 118.3,313.3 119.81,313.16 121.31,313.03 122.81,312.9 124.32,312.78 125.82,312.67 127.33,312.57 128.83,312.47 130.33,312.38 131.84,312.3 133.34,312.22 134.85,312.16 136.36,312.11 137.86,312.06 139.37,312.03 140.87,312.01 142.38,312 143.88,312.01 145.39,312.02 146.9,312.05 148.4,312.1 149.91,312.15 151.42,312.22 152.92,312.3 154.43,312.4 155.93,312.51 157.44,312.63 158.95,312.76 160.45,312.9 161.96,313.05 163.46,313.21 164.97,313.38 166.48,313.56 167.98,313.75 169.49,313.94 170.99,314.14 172.5,314.35 174,314.56 175.51,314.78 177.01,315.01 178.52,315.24 180.02,315.47 181.52,315.71 183.03,315.94 184.53,316.19 186.03,316.43 187.54,316.67 189.04,316.92 190.54,317.16 192.04,317.4 193.54,317.65 195.05,317.89 196.55,318.13 198.05,318.36 199.55,318.6 201.05,318.83 202.55,319.05 204.04,319.28 205.54,319.5 207.04,319.71 208.54,319.93 210.03,320.13 211.53,320.34 213.03,320.54 214.52,320.73 216.02,320.93 217.51,321.11 219,321.3 220.5,321.47 221.99,321.65 223.48,321.81 224.97,321.98 226.46,322.14 227.95,322.29 229.44,322.44 230.93,322.58 232.42,322.72 233.91,322.85" fill="none" stroke="#33a033" stroke-width="1.1" stroke-linejoin="round" stroke-linecap="round"/>
<polyline points="52.7,274.5 233.9,283" fill="none" stroke="#3c3cff" stroke-width="1.1" stroke-linejoin="round" stroke-linecap="round"/>
<ellipse cx="124.8" cy="216.1" rx="1.45" ry="1.25" fill="#8c8cff" stroke="#2a2aff" stroke-width="1"/>
<ellipse cx="124.8" cy="286.6" rx="1.45" ry="1.25" fill="#8c8cff" stroke="#2a2aff" stroke-width="1"/>
<ellipse cx="124.8" cy="321.2" rx="1.45" ry="1.25" fill="#8c8cff" stroke="#2a2aff" stroke-width="1"/>
<ellipse cx="161.8" cy="310.1" rx="1.45" ry="1.25" fill="#8c8cff" stroke="#2a2aff" stroke-width="1"/>
<ellipse cx="234.2" cy="239.8" rx="1.45" ry="1.25" fill="#8c8cff" stroke="#2a2aff" stroke-width="1"/>
<ellipse cx="234.2" cy="263.8" rx="1.45" ry="1.25" fill="#8c8cff" stroke="#2a2aff" stroke-width="1"/>
<rect x="46.5" y="189.8" width="194.1" height="147.2" fill="none" stroke="#262626" stroke-width="1.5"/>
<path d="M52.2,337L52.2,333.7 M52.2,189.8L52.2,193.1 M59.49,337L59.49,335.2 M59.49,189.8L59.49,191.6 M66.78,337L66.78,335.2 M66.78,189.8L66.78,191.6 M74.06,337L74.06,335.2 M74.06,189.8L74.06,191.6 M81.35,337L81.35,335.2 M81.35,189.8L81.35,191.6 M88.64,337L88.64,333.7 M88.64,189.8L88.64,193.1 M95.93,337L95.93,335.2 M95.93,189.8L95.93,191.6 M103.22,337L103.22,335.2 M103.22,189.8L103.22,191.6 M110.5,337L110.5,335.2 M110.5,189.8L110.5,191.6 M117.79,337L117.79,335.2 M117.79,189.8L117.79,191.6 M125.08,337L125.08,333.7 M125.08,189.8L125.08,193.1 M132.37,337L132.37,335.2 M132.37,189.8L132.37,191.6 M139.66,337L139.66,335.2 M139.66,189.8L139.66,191.6 M146.94,337L146.94,335.2 M146.94,189.8L146.94,191.6 M154.23,337L154.23,335.2 M154.23,189.8L154.23,191.6 M161.52,337L161.52,333.7 M161.52,189.8L161.52,193.1 M168.81,337L168.81,335.2 M168.81,189.8L168.81,191.6 M176.1,337L176.1,335.2 M176.1,189.8L176.1,191.6 M183.38,337L183.38,335.2 M183.38,189.8L183.38,191.6 M190.67,337L190.67,335.2 M190.67,189.8L190.67,191.6 M197.96,337L197.96,333.7 M197.96,189.8L197.96,193.1 M205.25,337L205.25,335.2 M205.25,189.8L205.25,191.6 M212.54,337L212.54,335.2 M212.54,189.8L212.54,191.6 M219.82,337L219.82,335.2 M219.82,189.8L219.82,191.6 M227.11,337L227.11,335.2 M227.11,189.8L227.11,191.6 M234.4,337L234.4,333.7 M234.4,189.8L234.4,193.1 M46.5,332.9L49.8,332.9 M240.6,332.9L237.3,332.9 M46.5,328.26L48.3,328.26 M240.6,328.26L238.8,328.26 M46.5,323.61L48.3,323.61 M240.6,323.61L238.8,323.61 M46.5,318.97L48.3,318.97 M240.6,318.97L238.8,318.97 M46.5,314.33L48.3,314.33 M240.6,314.33L238.8,314.33 M46.5,309.68L49.8,309.68 M240.6,309.68L237.3,309.68 M46.5,305.04L48.3,305.04 M240.6,305.04L238.8,305.04 M46.5,300.4L48.3,300.4 M240.6,300.4L238.8,300.4 M46.5,295.75L48.3,295.75 M240.6,295.75L238.8,295.75 M46.5,291.11L48.3,291.11 M240.6,291.11L238.8,291.11 M46.5,286.47L49.8,286.47 M240.6,286.47L237.3,286.47 M46.5,281.82L48.3,281.82 M240.6,281.82L238.8,281.82 M46.5,277.18L48.3,277.18 M240.6,277.18L238.8,277.18 M46.5,272.54L48.3,272.54 M240.6,272.54L238.8,272.54 M46.5,267.89L48.3,267.89 M240.6,267.89L238.8,267.89 M46.5,263.25L49.8,263.25 M240.6,263.25L237.3,263.25 M46.5,258.61L48.3,258.61 M240.6,258.61L238.8,258.61 M46.5,253.96L48.3,253.96 M240.6,253.96L238.8,253.96 M46.5,249.32L48.3,249.32 M240.6,249.32L238.8,249.32 M46.5,244.68L48.3,244.68 M240.6,244.68L238.8,244.68 M46.5,240.03L49.8,240.03 M240.6,240.03L237.3,240.03 M46.5,235.39L48.3,235.39 M240.6,235.39L238.8,235.39 M46.5,230.75L48.3,230.75 M240.6,230.75L238.8,230.75 M46.5,226.1L48.3,226.1 M240.6,226.1L238.8,226.1 M46.5,221.46L48.3,221.46 M240.6,221.46L238.8,221.46 M46.5,216.82L49.8,216.82 M240.6,216.82L237.3,216.82 M46.5,212.17L48.3,212.17 M240.6,212.17L238.8,212.17 M46.5,207.53L48.3,207.53 M240.6,207.53L238.8,207.53 M46.5,202.89L48.3,202.89 M240.6,202.89L238.8,202.89 M46.5,198.24L48.3,198.24 M240.6,198.24L238.8,198.24 M46.5,193.6L49.8,193.6 M240.6,193.6L237.3,193.6" stroke="#262626" stroke-width="1.1" fill="none"/>
<rect x="46.5" y="189.8" width="18.7" height="25.4" fill="#fff" stroke="#b0b0b0" stroke-width="1"/>
<path d="M46.5,189.05L46.5,216.2" stroke="#262626" stroke-width="1.5"/>
<text x="58.4" y="207.7" font-size="11" font-weight="normal" text-anchor="middle" fill="#111" stroke="#111" stroke-width="0.5" >C</text>
<text transform="translate(52.2,347.5) scale(0.92,1)" font-size="9.6" font-weight="bold" text-anchor="middle" fill="#161616" stroke="#161616" stroke-width="0.25">8</text>
<text transform="translate(88.64,347.5) scale(0.92,1)" font-size="9.6" font-weight="bold" text-anchor="middle" fill="#161616" stroke="#161616" stroke-width="0.25">9</text>
<text transform="translate(125.08,347.5) scale(0.92,1)" font-size="9.6" font-weight="bold" text-anchor="middle" fill="#161616" stroke="#161616" stroke-width="0.25">10</text>
<text transform="translate(161.52,347.5) scale(0.92,1)" font-size="9.6" font-weight="bold" text-anchor="middle" fill="#161616" stroke="#161616" stroke-width="0.25">11</text>
<text transform="translate(197.96,347.5) scale(0.92,1)" font-size="9.6" font-weight="bold" text-anchor="middle" fill="#161616" stroke="#161616" stroke-width="0.25">12</text>
<text transform="translate(234.4,347.5) scale(0.92,1)" font-size="9.6" font-weight="bold" text-anchor="middle" fill="#161616" stroke="#161616" stroke-width="0.25">13</text>
<text transform="translate(44.4,334.9) scale(0.92,1)" font-size="9.6" font-weight="bold" text-anchor="end" fill="#161616" stroke="#161616" stroke-width="0.25">0</text>
<text transform="translate(44.4,311.68) scale(0.92,1)" font-size="9.6" font-weight="bold" text-anchor="end" fill="#161616" stroke="#161616" stroke-width="0.25">50</text>
<text transform="translate(44.4,288.47) scale(0.92,1)" font-size="9.6" font-weight="bold" text-anchor="end" fill="#161616" stroke="#161616" stroke-width="0.25">100</text>
<text transform="translate(44.4,265.25) scale(0.92,1)" font-size="9.6" font-weight="bold" text-anchor="end" fill="#161616" stroke="#161616" stroke-width="0.25">150</text>
<text transform="translate(44.4,242.03) scale(0.92,1)" font-size="9.6" font-weight="bold" text-anchor="end" fill="#161616" stroke="#161616" stroke-width="0.25">200</text>
<text transform="translate(44.4,218.82) scale(0.92,1)" font-size="9.6" font-weight="bold" text-anchor="end" fill="#161616" stroke="#161616" stroke-width="0.25">250</text>
<text transform="translate(44.4,195.6) scale(0.92,1)" font-size="9.6" font-weight="bold" text-anchor="end" fill="#161616" stroke="#161616" stroke-width="0.25">300</text>
<text x="143.55" y="357.5" font-size="9.2" font-weight="bold" text-anchor="middle" fill="#161616" stroke="#161616" stroke-width="0.25" >mortality</text>
<text x="0" y="0" font-size="9.7" font-weight="bold" text-anchor="middle" fill="#161616" stroke="#161616" stroke-width="0.05" transform="translate(13.4,260.9) rotate(-90)" textLength="77" lengthAdjust="spacingAndGlyphs">Concentration</text>
<polyline points="297.4,328.1 298.92,328.1 300.45,328.11 301.97,328.11 303.49,328.11 305.01,328.12 306.54,328.12 308.06,328.12 309.58,328.13 311.1,328.13 312.63,328.13 314.15,328.14 315.67,328.14 317.19,328.14 318.72,328.14 320.24,328.15 321.76,328.15 323.28,328.15 324.81,328.16 326.33,328.16 327.85,328.16 329.37,328.17 330.9,328.17 332.42,328.17 333.94,328.18 335.46,328.18 336.99,328.18 338.51,328.19 340.03,328.19 341.55,328.19 343.08,328.2 344.6,328.2 346.12,328.2 347.64,328.21 349.17,328.21 350.69,328.21 352.21,328.22 353.73,328.22 355.26,328.22 356.78,328.23 358.3,328.23 359.82,328.23 361.35,328.23 362.87,328.24 364.39,328.24 365.91,328.24 367.44,328.25 368.96,328.25 370.48,328.25 372,328.26 373.53,328.26 375.05,328.26 376.57,328.27 378.09,328.27 379.62,328.27 381.14,328.28 382.66,328.28 384.18,328.28 385.71,328.29 387.23,328.29 388.75,328.29 390.27,328.3 391.8,328.3 393.32,328.34 394.83,328.51 396.34,328.68 397.86,328.85 399.37,329.02 400.89,329.1 402.41,329.1 403.93,329.1 405.45,329.1 406.98,329.1 408.5,329.1 410.02,329.1 411.54,329.1 413.06,329.1 414.59,329.1 416.11,329.1 417.63,329.1 419.15,329.1 420.68,329.1 422.2,329.11 423.72,329.11 425.24,329.11 426.76,329.11 428.29,329.11 429.81,329.11 431.33,329.11 432.85,329.11 434.37,329.11 435.9,329.11 437.42,329.11 438.94,329.11 440.46,329.11 441.98,329.11 443.51,329.11 445.03,329.11 446.55,329.11 448.07,329.11 449.6,329.11 451.12,329.11 452.64,329.11 454.16,329.11 455.68,329.12 457.21,329.12 458.73,329.12 460.25,329.12 461.65,329.63 463.05,330.18 464.57,330.18 466.09,330.19 467.61,330.19 469.13,330.19 470.65,330.19 472.17,330.19 473.69,330.19 475.21,330.19 476.74,330.2 478.26,330.2 479.78,330.2 481.3,330.2" fill="none" stroke="#cacaca" stroke-width="1.3" stroke-linejoin="round" stroke-linecap="round"/>
<polyline points="297.31,318.85 298.81,318.54 300.32,318.23 301.83,317.93 303.33,317.65 304.84,317.36 306.35,317.09 307.86,316.82 309.36,316.57 310.87,316.31 312.38,316.07 313.89,315.84 315.4,315.61 316.91,315.39 318.42,315.17 319.94,314.97 321.45,314.77 322.96,314.58 324.47,314.4 325.98,314.23 327.5,314.06 329.01,313.9 330.52,313.75 332.03,313.61 333.55,313.47 335.06,313.34 336.57,313.22 338.09,313.11 339.6,313 341.12,312.9 342.63,312.81 344.14,312.73 345.66,312.66 347.17,312.59 348.69,312.53 350.2,312.48 351.72,312.43 353.23,312.4 354.75,312.37 356.26,312.35 357.78,312.34 359.29,312.33 360.81,312.33 362.32,312.34 363.83,312.36 365.35,312.38 366.86,312.42 368.38,312.46 369.89,312.51 371.4,312.56 372.92,312.63 374.43,312.7 375.94,312.78 377.46,312.86 378.97,312.96 380.48,313.06 382,313.17 383.51,313.29 385.02,313.41 386.53,313.54 388.04,313.68 389.55,313.83 391.06,313.99 392.57,314.15 394.08,314.32 395.59,314.5 397.1,314.68 398.61,314.87 400.12,315.07 401.63,315.27 403.14,315.47 404.65,315.68 406.15,315.9 407.66,316.12 409.17,316.34 410.68,316.57 412.18,316.8 413.69,317.03 415.2,317.27 416.7,317.51 418.21,317.75 419.71,317.99 421.22,318.24 422.73,318.48 424.23,318.73 425.74,318.97 427.24,319.22 428.75,319.47 430.25,319.71 431.76,319.96 433.26,320.2 434.76,320.44 436.27,320.68 437.77,320.92 439.28,321.16 440.78,321.39 442.28,321.63 443.79,321.85 445.29,322.08 446.8,322.3 448.3,322.51 449.8,322.73 451.31,322.93 452.81,323.14 454.31,323.33 455.82,323.52 457.32,323.71 458.82,323.89 460.33,324.06 461.83,324.22 463.33,324.38 464.84,324.53 466.34,324.67 467.84,324.81 469.35,324.93 470.85,325.05 472.36,325.16 473.86,325.25 475.36,325.34 476.87,325.42 478.37,325.49 479.87,325.55 481.38,325.59" fill="none" stroke="#33a033" stroke-width="1.1" stroke-linejoin="round" stroke-linecap="round"/>
<polyline points="297.33,264.23 298.82,264.56 300.31,264.88 301.81,265.2 303.31,265.52 304.8,265.83 306.3,266.14 307.79,266.44 309.29,266.74 310.79,267.03 312.29,267.32 313.78,267.61 315.28,267.89 316.78,268.17 318.28,268.44 319.78,268.71 321.28,268.98 322.78,269.24 324.28,269.5 325.79,269.76 327.29,270.01 328.79,270.26 330.29,270.51 331.79,270.75 333.3,270.99 334.8,271.23 336.3,271.46 337.81,271.69 339.31,271.92 340.82,272.15 342.32,272.37 343.83,272.59 345.33,272.81 346.84,273.03 348.35,273.24 349.85,273.45 351.36,273.66 352.87,273.87 354.37,274.08 355.88,274.28 357.39,274.48 358.9,274.69 360.4,274.88 361.91,275.08 363.42,275.28 364.93,275.47 366.44,275.67 367.95,275.86 369.46,276.05 370.97,276.24 372.48,276.43 373.99,276.62 375.5,276.8 377.01,276.99 378.52,277.17 380.03,277.36 381.54,277.54 383.05,277.73 384.57,277.91 386.08,278.09 387.59,278.28 389.1,278.46 390.61,278.64 392.13,278.83 393.64,279.01 395.15,279.19 396.66,279.37 398.18,279.56 399.69,279.74 401.2,279.92 402.72,280.1 404.23,280.28 405.74,280.46 407.26,280.64 408.77,280.82 410.29,281 411.8,281.18 413.31,281.36 414.83,281.54 416.34,281.72 417.86,281.89 419.37,282.07 420.88,282.24 422.4,282.42 423.91,282.59 425.43,282.76 426.94,282.94 428.46,283.11 429.97,283.28 431.49,283.45 433,283.62 434.51,283.78 436.03,283.95 437.54,284.11 439.06,284.28 440.57,284.44 442.09,284.6 443.6,284.76 445.12,284.92 446.63,285.08 448.15,285.24 449.66,285.39 451.17,285.55 452.69,285.7 454.2,285.85 455.72,286 457.23,286.15 458.75,286.3 460.26,286.44 461.77,286.59 463.29,286.73 464.8,286.87 466.32,287.01 467.83,287.15 469.34,287.28 470.86,287.42 472.37,287.55 473.88,287.68 475.4,287.81 476.91,287.93 478.42,288.06 479.94,288.18 481.45,288.3" fill="none" stroke="#3c3cff" stroke-width="1.1" stroke-linejoin="round" stroke-linecap="round"/>
<ellipse cx="343.7" cy="192" rx="1.45" ry="1.25" fill="#8c8cff" stroke="#2a2aff" stroke-width="1"/>
<ellipse cx="390.4" cy="247.5" rx="1.45" ry="1.25" fill="#8c8cff" stroke="#2a2aff" stroke-width="1"/>
<ellipse cx="297.4" cy="275.2" rx="1.45" ry="1.25" fill="#8c8cff" stroke="#2a2aff" stroke-width="1"/>
<ellipse cx="297.4" cy="302.9" rx="1.45" ry="1.25" fill="#8c8cff" stroke="#2a2aff" stroke-width="1"/>
<ellipse cx="436.3" cy="219.8" rx="1.45" ry="1.25" fill="#8c8cff" stroke="#2a2aff" stroke-width="1"/>
<ellipse cx="482.3" cy="317.2" rx="1.45" ry="1.25" fill="#8c8cff" stroke="#2a2aff" stroke-width="1"/>
<rect x="292.7" y="187.6" width="195.1" height="147.4" fill="none" stroke="#262626" stroke-width="1.5"/>
<path d="M297.6,335L297.6,331.7 M297.6,187.6L297.6,190.9 M306.83,335L306.83,333.2 M306.83,187.6L306.83,189.4 M316.07,335L316.07,333.2 M316.07,187.6L316.07,189.4 M325.31,335L325.31,333.2 M325.31,187.6L325.31,189.4 M334.54,335L334.54,333.2 M334.54,187.6L334.54,189.4 M343.78,335L343.78,331.7 M343.78,187.6L343.78,190.9 M353.01,335L353.01,333.2 M353.01,187.6L353.01,189.4 M362.25,335L362.25,333.2 M362.25,187.6L362.25,189.4 M371.48,335L371.48,333.2 M371.48,187.6L371.48,189.4 M380.72,335L380.72,333.2 M380.72,187.6L380.72,189.4 M389.95,335L389.95,331.7 M389.95,187.6L389.95,190.9 M399.19,335L399.19,333.2 M399.19,187.6L399.19,189.4 M408.42,335L408.42,333.2 M408.42,187.6L408.42,189.4 M417.65,335L417.65,333.2 M417.65,187.6L417.65,189.4 M426.89,335L426.89,333.2 M426.89,187.6L426.89,189.4 M436.12,335L436.12,331.7 M436.12,187.6L436.12,190.9 M445.36,335L445.36,333.2 M445.36,187.6L445.36,189.4 M454.6,335L454.6,333.2 M454.6,187.6L454.6,189.4 M463.83,335L463.83,333.2 M463.83,187.6L463.83,189.4 M473.07,335L473.07,333.2 M473.07,187.6L473.07,189.4 M482.3,335L482.3,331.7 M482.3,187.6L482.3,190.9 M292.7,331.1L296,331.1 M487.8,331.1L484.5,331.1 M292.7,325.53L294.5,325.53 M487.8,325.53L486,325.53 M292.7,319.96L294.5,319.96 M487.8,319.96L486,319.96 M292.7,314.4L294.5,314.4 M487.8,314.4L486,314.4 M292.7,308.83L294.5,308.83 M487.8,308.83L486,308.83 M292.7,303.26L296,303.26 M487.8,303.26L484.5,303.26 M292.7,297.69L294.5,297.69 M487.8,297.69L486,297.69 M292.7,292.12L294.5,292.12 M487.8,292.12L486,292.12 M292.7,286.56L294.5,286.56 M487.8,286.56L486,286.56 M292.7,280.99L294.5,280.99 M487.8,280.99L486,280.99 M292.7,275.42L296,275.42 M487.8,275.42L484.5,275.42 M292.7,269.85L294.5,269.85 M487.8,269.85L486,269.85 M292.7,264.28L294.5,264.28 M487.8,264.28L486,264.28 M292.7,258.72L294.5,258.72 M487.8,258.72L486,258.72 M292.7,253.15L294.5,253.15 M487.8,253.15L486,253.15 M292.7,247.58L296,247.58 M487.8,247.58L484.5,247.58 M292.7,242.01L294.5,242.01 M487.8,242.01L486,242.01 M292.7,236.44L294.5,236.44 M487.8,236.44L486,236.44 M292.7,230.88L294.5,230.88 M487.8,230.88L486,230.88 M292.7,225.31L294.5,225.31 M487.8,225.31L486,225.31 M292.7,219.74L296,219.74 M487.8,219.74L484.5,219.74 M292.7,214.17L294.5,214.17 M487.8,214.17L486,214.17 M292.7,208.6L294.5,208.6 M487.8,208.6L486,208.6 M292.7,203.04L294.5,203.04 M487.8,203.04L486,203.04 M292.7,197.47L294.5,197.47 M487.8,197.47L486,197.47 M292.7,191.9L296,191.9 M487.8,191.9L484.5,191.9" stroke="#262626" stroke-width="1.1" fill="none"/>
<rect x="292.7" y="187.6" width="19.7" height="23.7" fill="#fff" stroke="#b0b0b0" stroke-width="1"/>
<path d="M292.7,186.85L292.7,212.3" stroke="#262626" stroke-width="1.5"/>
<text x="305.4" y="204.3" font-size="11" font-weight="normal" text-anchor="middle" fill="#111" stroke="#111" stroke-width="0.5" >D</text>
<text transform="translate(297.6,345.9) scale(0.92,1)" font-size="9.6" font-weight="bold" text-anchor="middle" fill="#161616" stroke="#161616" stroke-width="0.25">9</text>
<text transform="translate(343.78,345.9) scale(0.92,1)" font-size="9.6" font-weight="bold" text-anchor="middle" fill="#161616" stroke="#161616" stroke-width="0.25">10</text>
<text transform="translate(389.95,345.9) scale(0.92,1)" font-size="9.6" font-weight="bold" text-anchor="middle" fill="#161616" stroke="#161616" stroke-width="0.25">11</text>
<text transform="translate(436.12,345.9) scale(0.92,1)" font-size="9.6" font-weight="bold" text-anchor="middle" fill="#161616" stroke="#161616" stroke-width="0.25">12</text>
<text transform="translate(482.3,345.9) scale(0.92,1)" font-size="9.6" font-weight="bold" text-anchor="middle" fill="#161616" stroke="#161616" stroke-width="0.25">13</text>
<text transform="translate(288.3,333.3) scale(0.92,1)" font-size="9.6" font-weight="bold" text-anchor="end" fill="#161616" stroke="#161616" stroke-width="0.25">0</text>
<text transform="translate(288.3,305.46) scale(0.92,1)" font-size="9.6" font-weight="bold" text-anchor="end" fill="#161616" stroke="#161616" stroke-width="0.25">10</text>
<text transform="translate(288.3,277.62) scale(0.92,1)" font-size="9.6" font-weight="bold" text-anchor="end" fill="#161616" stroke="#161616" stroke-width="0.25">20</text>
<text transform="translate(288.3,249.78) scale(0.92,1)" font-size="9.6" font-weight="bold" text-anchor="end" fill="#161616" stroke="#161616" stroke-width="0.25">30</text>
<text transform="translate(288.3,221.94) scale(0.92,1)" font-size="9.6" font-weight="bold" text-anchor="end" fill="#161616" stroke="#161616" stroke-width="0.25">40</text>
<text transform="translate(288.3,194.1) scale(0.92,1)" font-size="9.6" font-weight="bold" text-anchor="end" fill="#161616" stroke="#161616" stroke-width="0.25">50</text>
<text x="389.5" y="356.6" font-size="9.2" font-weight="bold" text-anchor="middle" fill="#161616" stroke="#161616" stroke-width="0.25" >mortality</text>
<text x="0" y="0" font-size="9.7" font-weight="bold" text-anchor="middle" fill="#161616" stroke="#161616" stroke-width="0.05" transform="translate(264.3,257.3) rotate(-90)" textLength="77" lengthAdjust="spacingAndGlyphs">Concentration</text>
<polyline points="49.4,514.7 50.92,514.69 52.45,514.68 53.97,514.67 55.49,514.66 57.01,514.65 58.54,514.64 60.06,514.64 61.58,514.63 63.1,514.62 64.63,514.61 66.15,514.6 67.67,514.59 69.19,514.58 70.72,514.57 72.24,514.56 73.76,514.55 75.28,514.54 76.81,514.53 78.33,514.52 79.85,514.51 81.37,514.5 82.9,514.5 84.42,514.49 85.94,514.48 87.46,514.47 88.99,514.46 90.51,514.45 92.03,514.44 93.55,514.43 95.08,514.42 96.6,514.41 98.12,514.4 99.64,514.39 101.17,514.38 102.69,514.37 104.21,514.37 105.73,514.36 107.26,514.35 108.78,514.34 110.3,514.33 111.82,514.32 113.35,514.31 114.87,514.3 116.39,514.29 117.88,514.17 119.21,513.41 120.66,513.12 122.18,513.13 123.7,513.13 125.22,513.14 126.75,513.15 128.27,513.15 129.79,513.16 131.31,513.16 132.83,513.17 134.35,513.18 135.88,513.18 137.4,513.19 138.92,513.19 140.44,513.16 141.96,513.05 143.48,512.93 144.99,512.81 146.51,512.69 148.03,512.58 149.55,512.46 151.07,512.34 152.59,512.22 154.11,512.2 155.63,512.2 157.15,512.2 158.68,512.2 160.2,512.2 161.72,512.2 163.25,512.2 164.77,512.2 166.29,512.2 167.81,512.2 169.34,512.2 170.86,512.2 172.38,512.2 173.91,512.2 175.43,512.2 176.95,512.2 178.48,512.2 180,512.2 181.52,512.2 183.04,512.2 184.57,512.2 186.09,512.2 187.61,512.2 189.14,512.2 190.66,512.2 192.18,512.2 193.7,512.2 195.23,512.2 196.75,512.2 198.27,512.2 199.8,512.2 201.32,512.2 202.84,512.2 204.36,512.2 205.89,512.2 207.41,512.2 208.93,512.2 210.46,512.2 211.98,512.2 213.5,512.2 215.03,512.2 216.55,512.2 218.07,512.2 219.59,512.2 221.12,512.2 222.64,512.2 224.16,512.2 225.69,512.2 227.21,512.2 228.73,512.2 230.25,512.2 231.78,512.2 233.3,512.2" fill="none" stroke="#cacaca" stroke-width="1.3" stroke-linejoin="round" stroke-linecap="round"/>
<polyline points="49.52,513.4 51.03,513.35 52.54,513.28 54.04,513.2 55.55,513.11 57.05,513 58.56,512.88 60.06,512.75 61.57,512.61 63.07,512.46 64.57,512.3 66.07,512.13 67.57,511.95 69.08,511.76 70.58,511.56 72.08,511.35 73.58,511.13 75.07,510.9 76.57,510.67 78.07,510.43 79.57,510.18 81.07,509.93 82.57,509.67 84.06,509.41 85.56,509.14 87.06,508.86 88.55,508.58 90.05,508.3 91.55,508.01 93.04,507.72 94.54,507.42 96.04,507.12 97.53,506.82 99.03,506.52 100.53,506.22 102.02,505.91 103.52,505.61 105.02,505.3 106.51,505 108.01,504.69 109.51,504.38 111,504.08 112.5,503.78 114,503.48 115.5,503.18 117,502.88 118.49,502.59 119.99,502.29 121.49,502.01 122.99,501.72 124.49,501.45 125.99,501.17 127.49,500.9 128.99,500.64 130.5,500.38 132,500.13 133.5,499.88 135.01,499.65 136.51,499.41 138.01,499.19 139.52,498.98 141.03,498.77 142.53,498.57 144.04,498.38 145.55,498.2 147.06,498.03 148.57,497.87 150.08,497.71 151.59,497.57 153.1,497.43 154.61,497.31 156.12,497.19 157.64,497.08 159.15,496.98 160.66,496.88 162.18,496.8 163.69,496.72 165.21,496.66 166.72,496.6 168.24,496.55 169.75,496.51 171.27,496.48 172.79,496.45 174.3,496.44 175.82,496.43 177.34,496.43 178.86,496.44 180.37,496.46 181.89,496.49 183.41,496.52 184.93,496.57 186.45,496.62 187.97,496.68 189.48,496.75 191,496.82 192.52,496.91 194.04,497 195.56,497.1 197.08,497.21 198.6,497.32 200.12,497.44 201.63,497.57 203.15,497.71 204.67,497.85 206.19,497.99 207.71,498.15 209.23,498.31 210.74,498.47 212.26,498.64 213.78,498.82 215.29,499 216.81,499.19 218.33,499.38 219.84,499.58 221.36,499.78 222.87,499.99 224.39,500.2 225.9,500.41 227.42,500.63 228.93,500.85 230.44,501.08 231.96,501.31 233.47,501.54" fill="none" stroke="#33a033" stroke-width="1.1" stroke-linejoin="round" stroke-linecap="round"/>
<polyline points="49.28,489.46 50.75,489.07 52.22,488.68 53.68,488.29 55.15,487.9 56.62,487.51 58.09,487.12 59.55,486.73 61.02,486.34 62.49,485.96 63.96,485.57 65.42,485.18 66.89,484.8 68.36,484.41 69.83,484.02 71.29,483.64 72.76,483.25 74.22,482.86 75.69,482.47 77.16,482.09 78.62,481.7 80.08,481.31 81.55,480.91 83.01,480.52 84.47,480.13 85.94,479.73 87.4,479.33 88.86,478.93 90.32,478.53 91.78,478.13 93.24,477.73 94.69,477.32 96.15,476.91 97.61,476.5 99.06,476.08 100.51,475.67 101.97,475.25 103.42,474.82 104.87,474.4 106.32,473.97 107.77,473.54 109.21,473.1 110.66,472.66 112.1,472.22 113.55,471.77 114.99,471.32 116.43,470.87 117.87,470.41 119.3,469.95 120.74,469.48 122.17,469.01 123.61,468.53 125.04,468.05 126.47,467.57 127.9,467.08 129.32,466.58 130.75,466.08 132.17,465.58 133.59,465.06 135.01,464.55 136.42,464.02 137.84,463.5 139.25,462.96 140.66,462.42 142.07,461.88 143.48,461.32 144.88,460.76 146.28,460.2 147.69,459.63 149.08,459.05 150.48,458.47 151.87,457.88 153.27,457.29 154.66,456.69 156.04,456.08 157.43,455.47 158.81,454.86 160.2,454.24 161.58,453.61 162.95,452.98 164.33,452.35 165.7,451.71 167.08,451.06 168.45,450.41 169.81,449.76 171.18,449.1 172.54,448.44 173.91,447.77 175.27,447.1 176.62,446.42 177.98,445.74 179.33,445.06 180.69,444.37 182.04,443.68 183.39,442.98 184.73,442.28 186.08,441.58 187.42,440.87 188.76,440.16 190.1,439.45 191.43,438.73 192.77,438.01 194.1,437.29 195.43,436.56 196.76,435.83 198.09,435.1 199.42,434.37 200.74,433.63 202.06,432.89 203.38,432.15 204.7,431.4 206.01,430.65 207.33,429.9 208.64,429.15 209.95,428.4 211.26,427.64 212.57,426.88 213.87,426.12 215.18,425.36 216.48,424.6 217.78,423.83 219.07,423.07 220.37,422.3 221.66,421.53 222.96,420.76 224.25,419.99 225.54,419.21 226.82,418.44 228.11,417.66 229.39,416.89 230.67,416.11 231.95,415.33 233.23,414.55" fill="none" stroke="#3c3cff" stroke-width="1.1" stroke-linejoin="round" stroke-linecap="round"/>
<ellipse cx="49.4" cy="481.4" rx="1.45" ry="1.25" fill="#8c8cff" stroke="#2a2aff" stroke-width="1"/>
<ellipse cx="141.6" cy="412.4" rx="1.45" ry="1.25" fill="#8c8cff" stroke="#2a2aff" stroke-width="1"/>
<ellipse cx="141.6" cy="499.2" rx="1.45" ry="1.25" fill="#8c8cff" stroke="#2a2aff" stroke-width="1"/>
<ellipse cx="187.6" cy="447.6" rx="1.45" ry="1.25" fill="#8c8cff" stroke="#2a2aff" stroke-width="1"/>
<ellipse cx="233.5" cy="377" rx="1.45" ry="1.25" fill="#8c8cff" stroke="#2a2aff" stroke-width="1"/>
<rect x="43.6" y="373" width="196.2" height="147.7" fill="none" stroke="#262626" stroke-width="1.5"/>
<path d="M49.5,520.7L49.5,517.4 M49.5,373L49.5,376.3 M58.69,520.7L58.69,518.9 M58.69,373L58.69,374.8 M67.89,520.7L67.89,518.9 M67.89,373L67.89,374.8 M77.08,520.7L77.08,518.9 M77.08,373L77.08,374.8 M86.28,520.7L86.28,518.9 M86.28,373L86.28,374.8 M95.47,520.7L95.47,517.4 M95.47,373L95.47,376.3 M104.67,520.7L104.67,518.9 M104.67,373L104.67,374.8 M113.87,520.7L113.87,518.9 M113.87,373L113.87,374.8 M123.06,520.7L123.06,518.9 M123.06,373L123.06,374.8 M132.26,520.7L132.26,518.9 M132.26,373L132.26,374.8 M141.45,520.7L141.45,517.4 M141.45,373L141.45,376.3 M150.64,520.7L150.64,518.9 M150.64,373L150.64,374.8 M159.84,520.7L159.84,518.9 M159.84,373L159.84,374.8 M169.03,520.7L169.03,518.9 M169.03,373L169.03,374.8 M178.23,520.7L178.23,518.9 M178.23,373L178.23,374.8 M187.43,520.7L187.43,517.4 M187.43,373L187.43,376.3 M196.62,520.7L196.62,518.9 M196.62,373L196.62,374.8 M205.82,520.7L205.82,518.9 M205.82,373L205.82,374.8 M215.01,520.7L215.01,518.9 M215.01,373L215.01,374.8 M224.21,520.7L224.21,518.9 M224.21,373L224.21,374.8 M233.4,520.7L233.4,517.4 M233.4,373L233.4,376.3 M43.6,516.4L46.9,516.4 M239.8,516.4L236.5,516.4 M43.6,509.44L45.4,509.44 M239.8,509.44L238,509.44 M43.6,502.48L45.4,502.48 M239.8,502.48L238,502.48 M43.6,495.52L45.4,495.52 M239.8,495.52L238,495.52 M43.6,488.56L46.9,488.56 M239.8,488.56L236.5,488.56 M43.6,481.6L45.4,481.6 M239.8,481.6L238,481.6 M43.6,474.64L45.4,474.64 M239.8,474.64L238,474.64 M43.6,467.68L45.4,467.68 M239.8,467.68L238,467.68 M43.6,460.72L46.9,460.72 M239.8,460.72L236.5,460.72 M43.6,453.76L45.4,453.76 M239.8,453.76L238,453.76 M43.6,446.8L45.4,446.8 M239.8,446.8L238,446.8 M43.6,439.84L45.4,439.84 M239.8,439.84L238,439.84 M43.6,432.88L46.9,432.88 M239.8,432.88L236.5,432.88 M43.6,425.92L45.4,425.92 M239.8,425.92L238,425.92 M43.6,418.96L45.4,418.96 M239.8,418.96L238,418.96 M43.6,412L45.4,412 M239.8,412L238,412 M43.6,405.04L46.9,405.04 M239.8,405.04L236.5,405.04 M43.6,398.08L45.4,398.08 M239.8,398.08L238,398.08 M43.6,391.12L45.4,391.12 M239.8,391.12L238,391.12 M43.6,384.16L45.4,384.16 M239.8,384.16L238,384.16 M43.6,377.2L46.9,377.2 M239.8,377.2L236.5,377.2" stroke="#262626" stroke-width="1.1" fill="none"/>
<rect x="43.6" y="373" width="21.9" height="24.7" fill="#fff" stroke="#b0b0b0" stroke-width="1"/>
<path d="M43.6,372.25L43.6,398.7" stroke="#262626" stroke-width="1.5"/>
<text x="54.9" y="389.9" font-size="11" font-weight="normal" text-anchor="middle" fill="#111" stroke="#111" stroke-width="0.5" >E</text>
<text transform="translate(49.5,530.8) scale(0.92,1)" font-size="9.6" font-weight="bold" text-anchor="middle" fill="#161616" stroke="#161616" stroke-width="0.25">9</text>
<text transform="translate(95.47,530.8) scale(0.92,1)" font-size="9.6" font-weight="bold" text-anchor="middle" fill="#161616" stroke="#161616" stroke-width="0.25">10</text>
<text transform="translate(141.45,530.8) scale(0.92,1)" font-size="9.6" font-weight="bold" text-anchor="middle" fill="#161616" stroke="#161616" stroke-width="0.25">11</text>
<text transform="translate(187.43,530.8) scale(0.92,1)" font-size="9.6" font-weight="bold" text-anchor="middle" fill="#161616" stroke="#161616" stroke-width="0.25">12</text>
<text transform="translate(233.4,530.8) scale(0.92,1)" font-size="9.6" font-weight="bold" text-anchor="middle" fill="#161616" stroke="#161616" stroke-width="0.25">13</text>
<text transform="translate(40.8,518.6) scale(0.92,1)" font-size="9.6" font-weight="bold" text-anchor="end" fill="#161616" stroke="#161616" stroke-width="0.25">0</text>
<text transform="translate(40.8,490.76) scale(0.92,1)" font-size="9.6" font-weight="bold" text-anchor="end" fill="#161616" stroke="#161616" stroke-width="0.25">40</text>
<text x="40.8" y="462.92" font-size="8.2" font-weight="normal" text-anchor="end" fill="#4a4a4a" >80</text>
<text x="40.8" y="435.08" font-size="8.2" font-weight="normal" text-anchor="end" fill="#4a4a4a" >120</text>
<text x="40.8" y="407.24" font-size="8.2" font-weight="normal" text-anchor="end" fill="#4a4a4a" >160</text>
<text transform="translate(40.8,379.4) scale(0.92,1)" font-size="9.6" font-weight="bold" text-anchor="end" fill="#161616" stroke="#161616" stroke-width="0.25">200</text>
<text x="140.5" y="541.6" font-size="9.2" font-weight="bold" text-anchor="middle" fill="#161616" stroke="#161616" stroke-width="0.25" >mortality</text>
<text x="0" y="0" font-size="9.7" font-weight="bold" text-anchor="middle" fill="#161616" stroke="#161616" stroke-width="0.05" transform="translate(23.4,439.8) rotate(-90)" textLength="77" lengthAdjust="spacingAndGlyphs">Concentration</text>
<polyline points="297.4,516.7 298.93,516.69 300.45,516.68 301.98,516.67 303.5,516.66 305.02,516.65 306.55,516.63 308.07,516.62 309.59,516.61 311.12,516.6 312.64,516.59 314.16,516.58 315.69,516.57 317.21,516.56 318.73,516.55 320.26,516.54 321.78,516.53 323.3,516.52 324.83,516.5 326.35,516.49 327.88,516.48 329.4,516.47 330.92,516.46 332.45,516.45 333.97,516.44 335.49,516.43 337.02,516.42 338.54,516.41 340.06,516.4 341.59,516.39 343.11,516.37 344.63,516.36 346.16,516.35 347.68,516.34 349.2,516.33 350.73,516.32 352.25,516.31 353.78,516.29 355.3,516.18 356.82,516.08 358.35,515.98 359.87,515.87 361.39,515.77 362.92,515.67 364.44,515.56 365.96,515.46 367.49,515.36 369.01,515.25 370.53,515.19 372.06,515.18 373.58,515.17 375.1,515.15 376.63,515.14 378.15,515.13 379.67,515.12 381.2,515.1 382.72,515.09 384.25,515.08 385.77,515.06 387.29,515.05 388.82,515.04 390.34,515.02 391.86,515.01 393.39,515 394.91,515 396.43,515 397.96,515 399.48,515 401.01,515 402.53,515 404.05,515 405.58,515 407.1,515 408.63,515 410.15,515 411.67,515.01 413.2,515.01 414.72,515.01 416.25,515.01 417.77,515.01 419.29,515.01 420.82,515.01 422.34,515.01 423.86,515.01 425.39,515.01 426.91,515.01 428.44,515.01 429.96,515.01 431.48,515.01 433.01,515.01 434.53,515.01 436.06,515.01 437.58,515.01 439.1,515.01 440.63,515.01 442.15,515.01 443.68,515.02 445.2,515.02 446.72,515.02 448.25,515.02 449.77,515.02 451.29,515.02 452.82,515.02 454.34,515.02 455.75,515.52 457.17,515.98 458.7,515.98 460.22,515.98 461.75,515.98 463.27,515.99 464.79,515.99 466.32,515.99 467.84,515.99 469.36,515.99 470.89,515.99 472.41,515.99 473.93,515.99 475.46,515.99 476.98,516 478.51,516 480.03,516 481.55,516 483.08,516 484.6,516" fill="none" stroke="#cacaca" stroke-width="1.3" stroke-linejoin="round" stroke-linecap="round"/>
<polyline points="297.5,511.27 298.99,511.05 300.48,510.84 301.97,510.62 303.47,510.4 304.96,510.17 306.45,509.95 307.95,509.72 309.44,509.49 310.94,509.26 312.44,509.03 313.93,508.8 315.43,508.56 316.93,508.33 318.43,508.1 319.93,507.86 321.43,507.63 322.93,507.39 324.43,507.15 325.93,506.92 327.44,506.69 328.94,506.45 330.44,506.22 331.95,505.99 333.45,505.76 334.96,505.53 336.46,505.3 337.97,505.08 339.48,504.85 340.98,504.63 342.49,504.42 344,504.2 345.51,503.99 347.02,503.78 348.53,503.57 350.04,503.36 351.55,503.16 353.06,502.97 354.57,502.78 356.08,502.59 357.59,502.4 359.1,502.22 360.61,502.05 362.13,501.88 363.64,501.71 365.15,501.55 366.67,501.39 368.18,501.24 369.69,501.1 371.21,500.96 372.72,500.83 374.24,500.7 375.75,500.58 377.27,500.47 378.78,500.36 380.3,500.26 381.81,500.17 383.33,500.09 384.84,500.01 386.36,499.94 387.88,499.88 389.39,499.82 390.91,499.78 392.43,499.74 393.94,499.71 395.46,499.69 396.98,499.68 398.49,499.68 400.01,499.68 401.53,499.69 403.04,499.71 404.56,499.74 406.08,499.77 407.59,499.82 409.11,499.86 410.63,499.92 412.14,499.98 413.66,500.05 415.18,500.12 416.69,500.21 418.21,500.29 419.73,500.39 421.24,500.48 422.76,500.59 424.27,500.7 425.79,500.81 427.3,500.93 428.82,501.06 430.33,501.19 431.85,501.32 433.36,501.46 434.88,501.6 436.39,501.75 437.91,501.9 439.42,502.06 440.93,502.22 442.45,502.38 443.96,502.55 445.47,502.72 446.99,502.89 448.5,503.06 450.01,503.24 451.52,503.42 453.03,503.61 454.54,503.79 456.05,503.98 457.56,504.17 459.07,504.36 460.58,504.55 462.09,504.75 463.6,504.94 465.11,505.14 466.62,505.34 468.12,505.54 469.63,505.74 471.14,505.94 472.64,506.14 474.15,506.34 475.65,506.55 477.15,506.75 478.66,506.95 480.16,507.15 481.66,507.35 483.17,507.55 484.67,507.75" fill="none" stroke="#33a033" stroke-width="1.1" stroke-linejoin="round" stroke-linecap="round"/>
<polyline points="297.39,469.67 298.9,469.61 300.42,469.54 301.93,469.47 303.44,469.4 304.96,469.33 306.47,469.26 307.98,469.19 309.49,469.11 311.01,469.03 312.52,468.95 314.03,468.87 315.54,468.79 317.05,468.71 318.57,468.62 320.08,468.53 321.59,468.44 323.1,468.35 324.61,468.26 326.12,468.17 327.64,468.07 329.15,467.98 330.66,467.88 332.17,467.78 333.68,467.68 335.19,467.58 336.7,467.48 338.21,467.38 339.72,467.27 341.23,467.17 342.74,467.06 344.25,466.96 345.76,466.85 347.27,466.74 348.78,466.63 350.29,466.52 351.8,466.41 353.31,466.29 354.82,466.18 356.33,466.06 357.84,465.95 359.35,465.83 360.86,465.72 362.37,465.6 363.88,465.48 365.39,465.36 366.9,465.25 368.41,465.13 369.92,465.01 371.43,464.89 372.94,464.76 374.45,464.64 375.96,464.52 377.47,464.4 378.98,464.28 380.49,464.16 381.99,464.03 383.5,463.91 385.01,463.79 386.52,463.66 388.03,463.54 389.54,463.42 391.05,463.29 392.56,463.17 394.07,463.05 395.58,462.92 397.09,462.8 398.6,462.67 400.1,462.55 401.61,462.43 403.12,462.3 404.63,462.18 406.14,462.06 407.65,461.94 409.16,461.82 410.67,461.69 412.18,461.57 413.69,461.45 415.2,461.33 416.71,461.21 418.22,461.09 419.73,460.97 421.23,460.85 422.74,460.74 424.25,460.62 425.76,460.5 427.27,460.39 428.78,460.27 430.29,460.16 431.8,460.04 433.31,459.93 434.82,459.82 436.33,459.71 437.84,459.6 439.35,459.49 440.86,459.38 442.37,459.27 443.88,459.17 445.39,459.06 446.9,458.96 448.41,458.85 449.93,458.75 451.44,458.65 452.95,458.55 454.46,458.45 455.97,458.36 457.48,458.26 458.99,458.17 460.5,458.07 462.01,457.98 463.52,457.89 465.04,457.8 466.55,457.71 468.06,457.63 469.57,457.54 471.08,457.46 472.59,457.38 474.11,457.3 475.62,457.22 477.13,457.15 478.64,457.07 480.16,457 481.67,456.93 483.18,456.86 484.69,456.79" fill="none" stroke="#3c3cff" stroke-width="1.1" stroke-linejoin="round" stroke-linecap="round"/>
<ellipse cx="344.5" cy="379" rx="1.45" ry="1.25" fill="#8c8cff" stroke="#2a2aff" stroke-width="1"/>
<ellipse cx="298" cy="462.5" rx="1.45" ry="1.25" fill="#8c8cff" stroke="#2a2aff" stroke-width="1"/>
<ellipse cx="344.1" cy="504.1" rx="1.45" ry="1.25" fill="#8c8cff" stroke="#2a2aff" stroke-width="1"/>
<ellipse cx="438.4" cy="434.9" rx="1.45" ry="1.25" fill="#8c8cff" stroke="#2a2aff" stroke-width="1"/>
<ellipse cx="484.8" cy="407.1" rx="1.45" ry="1.25" fill="#8c8cff" stroke="#2a2aff" stroke-width="1"/>
<ellipse cx="485" cy="490.4" rx="1.45" ry="1.25" fill="#8c8cff" stroke="#2a2aff" stroke-width="1"/>
<rect x="292.4" y="374.7" width="198.7" height="147.8" fill="none" stroke="#262626" stroke-width="1.5"/>
<path d="M298,522.5L298,519.2 M298,374.7L298,378 M307.34,522.5L307.34,520.7 M307.34,374.7L307.34,376.5 M316.68,522.5L316.68,520.7 M316.68,374.7L316.68,376.5 M326.02,522.5L326.02,520.7 M326.02,374.7L326.02,376.5 M335.36,522.5L335.36,520.7 M335.36,374.7L335.36,376.5 M344.7,522.5L344.7,519.2 M344.7,374.7L344.7,378 M354.04,522.5L354.04,520.7 M354.04,374.7L354.04,376.5 M363.38,522.5L363.38,520.7 M363.38,374.7L363.38,376.5 M372.72,522.5L372.72,520.7 M372.72,374.7L372.72,376.5 M382.06,522.5L382.06,520.7 M382.06,374.7L382.06,376.5 M391.4,522.5L391.4,519.2 M391.4,374.7L391.4,378 M400.74,522.5L400.74,520.7 M400.74,374.7L400.74,376.5 M410.08,522.5L410.08,520.7 M410.08,374.7L410.08,376.5 M419.42,522.5L419.42,520.7 M419.42,374.7L419.42,376.5 M428.76,522.5L428.76,520.7 M428.76,374.7L428.76,376.5 M438.1,522.5L438.1,519.2 M438.1,374.7L438.1,378 M447.44,522.5L447.44,520.7 M447.44,374.7L447.44,376.5 M456.78,522.5L456.78,520.7 M456.78,374.7L456.78,376.5 M466.12,522.5L466.12,520.7 M466.12,374.7L466.12,376.5 M475.46,522.5L475.46,520.7 M475.46,374.7L475.46,376.5 M484.8,522.5L484.8,519.2 M484.8,374.7L484.8,378 M292.4,518.1L295.7,518.1 M491.1,518.1L487.8,518.1 M292.4,512.54L294.2,512.54 M491.1,512.54L489.3,512.54 M292.4,506.97L294.2,506.97 M491.1,506.97L489.3,506.97 M292.4,501.41L294.2,501.41 M491.1,501.41L489.3,501.41 M292.4,495.84L294.2,495.84 M491.1,495.84L489.3,495.84 M292.4,490.28L295.7,490.28 M491.1,490.28L487.8,490.28 M292.4,484.72L294.2,484.72 M491.1,484.72L489.3,484.72 M292.4,479.15L294.2,479.15 M491.1,479.15L489.3,479.15 M292.4,473.59L294.2,473.59 M491.1,473.59L489.3,473.59 M292.4,468.02L294.2,468.02 M491.1,468.02L489.3,468.02 M292.4,462.46L295.7,462.46 M491.1,462.46L487.8,462.46 M292.4,456.9L294.2,456.9 M491.1,456.9L489.3,456.9 M292.4,451.33L294.2,451.33 M491.1,451.33L489.3,451.33 M292.4,445.77L294.2,445.77 M491.1,445.77L489.3,445.77 M292.4,440.2L294.2,440.2 M491.1,440.2L489.3,440.2 M292.4,434.64L295.7,434.64 M491.1,434.64L487.8,434.64 M292.4,429.08L294.2,429.08 M491.1,429.08L489.3,429.08 M292.4,423.51L294.2,423.51 M491.1,423.51L489.3,423.51 M292.4,417.95L294.2,417.95 M491.1,417.95L489.3,417.95 M292.4,412.38L294.2,412.38 M491.1,412.38L489.3,412.38 M292.4,406.82L295.7,406.82 M491.1,406.82L487.8,406.82 M292.4,401.26L294.2,401.26 M491.1,401.26L489.3,401.26 M292.4,395.69L294.2,395.69 M491.1,395.69L489.3,395.69 M292.4,390.13L294.2,390.13 M491.1,390.13L489.3,390.13 M292.4,384.56L294.2,384.56 M491.1,384.56L489.3,384.56 M292.4,379L295.7,379 M491.1,379L487.8,379" stroke="#262626" stroke-width="1.1" fill="none"/>
<rect x="292.4" y="374.7" width="21.8" height="26.3" fill="#fff" stroke="#b0b0b0" stroke-width="1"/>
<path d="M292.4,373.95L292.4,402" stroke="#262626" stroke-width="1.5"/>
<text x="303.6" y="394.1" font-size="11" font-weight="normal" text-anchor="middle" fill="#111" stroke="#111" stroke-width="0.5" >F</text>
<text transform="translate(298,532.9) scale(0.92,1)" font-size="9.6" font-weight="bold" text-anchor="middle" fill="#161616" stroke="#161616" stroke-width="0.25">10</text>
<text transform="translate(344.7,532.9) scale(0.92,1)" font-size="9.6" font-weight="bold" text-anchor="middle" fill="#161616" stroke="#161616" stroke-width="0.25">11</text>
<text transform="translate(391.4,532.9) scale(0.92,1)" font-size="9.6" font-weight="bold" text-anchor="middle" fill="#161616" stroke="#161616" stroke-width="0.25">12</text>
<text transform="translate(438.1,532.9) scale(0.92,1)" font-size="9.6" font-weight="bold" text-anchor="middle" fill="#161616" stroke="#161616" stroke-width="0.25">13</text>
<text transform="translate(484.8,532.9) scale(0.92,1)" font-size="9.6" font-weight="bold" text-anchor="middle" fill="#161616" stroke="#161616" stroke-width="0.25">14</text>
<text transform="translate(289.2,520.1) scale(0.92,1)" font-size="9.6" font-weight="bold" text-anchor="end" fill="#161616" stroke="#161616" stroke-width="0.25">0</text>
<text transform="translate(289.2,492.28) scale(0.92,1)" font-size="9.6" font-weight="bold" text-anchor="end" fill="#161616" stroke="#161616" stroke-width="0.25">50</text>
<text transform="translate(289.2,464.46) scale(0.92,1)" font-size="9.6" font-weight="bold" text-anchor="end" fill="#161616" stroke="#161616" stroke-width="0.25">100</text>
<text transform="translate(289.2,436.64) scale(0.92,1)" font-size="9.6" font-weight="bold" text-anchor="end" fill="#161616" stroke="#161616" stroke-width="0.25">150</text>
<text transform="translate(289.2,408.82) scale(0.92,1)" font-size="9.6" font-weight="bold" text-anchor="end" fill="#161616" stroke="#161616" stroke-width="0.25">200</text>
<text transform="translate(289.2,381) scale(0.92,1)" font-size="9.6" font-weight="bold" text-anchor="end" fill="#161616" stroke="#161616" stroke-width="0.25">250</text>
<text x="391.75" y="543.5" font-size="9.2" font-weight="bold" text-anchor="middle" fill="#161616" stroke="#161616" stroke-width="0.25" >mortality</text>
<text x="0" y="0" font-size="9.7" font-weight="bold" text-anchor="middle" fill="#161616" stroke="#161616" stroke-width="0.05" transform="translate(264.9,454.1) rotate(-90)" textLength="77" lengthAdjust="spacingAndGlyphs">Concentration</text>
</svg>
</body></html>
